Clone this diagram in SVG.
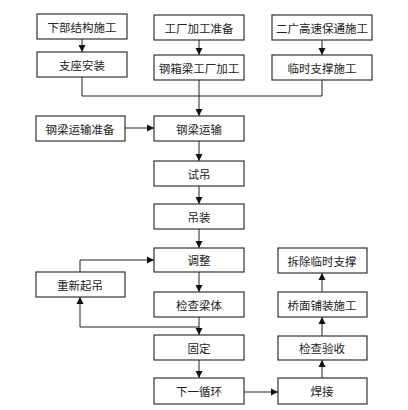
<svg xmlns="http://www.w3.org/2000/svg" width="408" height="410" viewBox="0 0 408 410">
<defs>
<style>
.b{fill:#fff;stroke:#333;stroke-width:1.2}
.t{font-family:"Noto Sans CJK SC","Liberation Serif",serif;font-size:11.5px;fill:#222;text-anchor:middle;dominant-baseline:central}
.c{fill:none;stroke:#222;stroke-width:1}
</style>
<marker id="a" markerWidth="8" markerHeight="8" refX="7" refY="4" orient="auto" markerUnits="userSpaceOnUse">
<path d="M0,0.5 L7,4 L0,7.5 Z" fill="#111"/>
</marker>
</defs>
<rect width="408" height="410" fill="#fff"/>
<g id="connectors">
<path class="c" d="M82,39 V52" marker-end="url(#a)"/>
<path class="c" d="M199,40 V55" marker-end="url(#a)"/>
<path class="c" d="M322,40 V55" marker-end="url(#a)"/>
<path class="c" d="M82,77 V96 H322 V80"/>
<path class="c" d="M199,80 V116" marker-end="url(#a)"/>
<path class="c" d="M125,128 H154" marker-end="url(#a)"/>
<path class="c" d="M199,141 V161" marker-end="url(#a)"/>
<path class="c" d="M199,186 V204" marker-end="url(#a)"/>
<path class="c" d="M199,229 V248" marker-end="url(#a)"/>
<path class="c" d="M199,272 V292" marker-end="url(#a)"/>
<path class="c" d="M80,272 V260 H154" marker-end="url(#a)"/>
<path class="c" d="M199,317 V335" marker-end="url(#a)"/>
<path class="c" d="M199,327 H80 V297" marker-end="url(#a)"/>
<path class="c" d="M199,360 V378" marker-end="url(#a)"/>
<path class="c" d="M244,392 H278" marker-end="url(#a)"/>
<path class="c" d="M322,378 V360" marker-end="url(#a)"/>
<path class="c" d="M322,336 V317" marker-end="url(#a)"/>
<path class="c" d="M322,292 V273" marker-end="url(#a)"/>
</g>
<g id="n1"><rect class="b" x="37" y="14" width="90" height="25"/><text class="t" x="82" y="27">下部结构施工</text></g>
<g id="n2"><rect class="b" x="37" y="52" width="90" height="25"/><text class="t" x="82" y="65">支座安装</text></g>
<g id="n3"><rect class="b" x="154" y="15" width="90" height="25"/><text class="t" x="199" y="28">工厂加工准备</text></g>
<g id="n4"><rect class="b" x="154" y="55" width="90" height="25"/><text class="t" x="199" y="68">钢箱梁工厂加工</text></g>
<g id="n5"><rect class="b" x="272" y="15" width="100" height="25"/><text class="t" x="322" y="28">二广高速保通施工</text></g>
<g id="n6"><rect class="b" x="272" y="55" width="100" height="25"/><text class="t" x="322" y="68">临时支撑施工</text></g>
<g id="n7"><rect class="b" x="36" y="116" width="89" height="25"/><text class="t" x="80" y="129">钢梁运输准备</text></g>
<g id="n8"><rect class="b" x="154" y="116" width="90" height="25"/><text class="t" x="199" y="129">钢梁运输</text></g>
<g id="n9"><rect class="b" x="154" y="161" width="90" height="25"/><text class="t" x="199" y="174">试吊</text></g>
<g id="n10"><rect class="b" x="154" y="204" width="90" height="25"/><text class="t" x="199" y="217">吊装</text></g>
<g id="n11"><rect class="b" x="154" y="248" width="90" height="24"/><text class="t" x="199" y="260">调整</text></g>
<g id="n12"><rect class="b" x="36" y="272" width="89" height="25"/><text class="t" x="80" y="285">重新起吊</text></g>
<g id="n13"><rect class="b" x="154" y="292" width="90" height="25"/><text class="t" x="199" y="305">检查梁体</text></g>
<g id="n14"><rect class="b" x="154" y="335" width="90" height="25"/><text class="t" x="199" y="348">固定</text></g>
<g id="n15"><rect class="b" x="154" y="378" width="90" height="26"/><text class="t" x="199" y="391">下一循环</text></g>
<g id="n16"><rect class="b" x="278" y="248" width="89" height="25"/><text class="t" x="322" y="261">拆除临时支撑</text></g>
<g id="n17"><rect class="b" x="278" y="292" width="89" height="25"/><text class="t" x="322" y="305">桥面铺装施工</text></g>
<g id="n18"><rect class="b" x="278" y="336" width="89" height="24"/><text class="t" x="322" y="348">检查验收</text></g>
<g id="n19"><rect class="b" x="278" y="378" width="89" height="26"/><text class="t" x="322" y="391">焊接</text></g>
</svg>
